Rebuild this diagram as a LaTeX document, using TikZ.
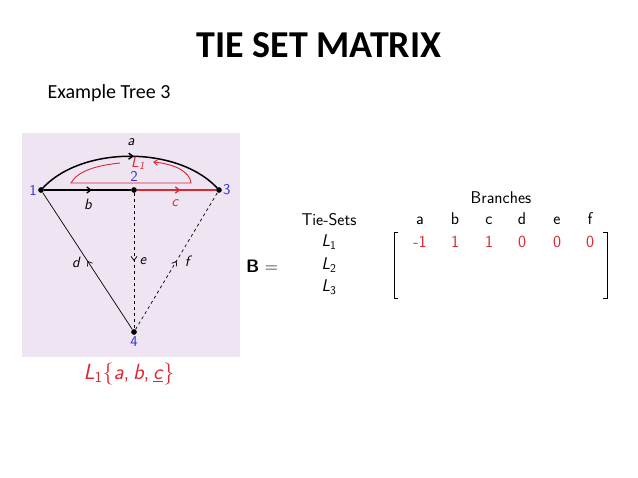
\documentclass[tikz,border=0pt]{standalone}
\usepackage{fontspec}
\newfontfamily\carlito{Carlito}
\usetikzlibrary{decorations.markings,arrows.meta}
\definecolor{bgpink}{RGB}{238,228,242}
\definecolor{lred}{RGB}{220,40,50}
\definecolor{nblue}{RGB}{50,50,200}
\newcommand{\Ls}[1]{\textit{L}\textsubscript{#1}}
\tikzset{
 vtx/.style={circle,fill=black,inner sep=2pt},
 num/.style={text=nblue,font=\sffamily\fontsize{15}{17}\selectfont,inner sep=1pt},
 lbl/.style={font=\sffamily\itshape\fontsize{15}{17}\selectfont,inner sep=1pt},
 mid arrow/.style={postaction={decorate},decoration={markings,mark=at position #1 with {\arrow{Straight Barb[length=4pt,width=6pt]}}}},
 txt/.style={font=\sffamily\fontsize{17}{20}\selectfont,inner sep=1pt},
}
\begin{document}
\begin{tikzpicture}[x=1pt,y=-1pt]
\useasboundingbox (0,0) rectangle (638,478);
\node[font=\carlito\bfseries\fontsize{38}{42}\selectfont] (title) at (319,45) {TIE SET MATRIX};
\node[font=\carlito\fontsize{20}{24}\selectfont,anchor=west] (ex) at (44,93) {Example Tree 3};
\fill[bgpink] (22,133) rectangle (240,357);
\node[vtx] (n1) at (41,190) {};
\node[vtx] (n2) at (134,190) {};
\node[vtx] (n3) at (219,190) {};
\node[vtx] (n4) at (134,332) {};
\node[num,left] at (n1.west) {1};
\node[num] at (134,176) {2};
\node[num,right] at (n3.east) {3};
\node[num,below] at (n4.south) {4};
\draw[line width=1.5pt,mid arrow=0.52] (n1.center) .. controls (80,145) and (180,145) .. (n3.center);
\node[lbl] at (131,142) {a};
\draw[line width=1.3pt,mid arrow=0.55] (n1) -- (n2);
\node[lbl] at (88,204) {b};
\draw[line width=1.3pt,lred,mid arrow=0.55] (n2) -- (n3);
\node[lbl,text=lred] at (175,203) {c};
\draw[line width=0.7pt,mid arrow=0.5] (n4) -- (n1);
\node[lbl] at (76,262) {d};
\draw[line width=0.7pt,dashed,mid arrow=0.5] (n2) -- (n4);
\node[lbl] at (143,261) {e};
\draw[line width=0.7pt,dashed,mid arrow=0.5] (n4) -- (n3);
\node[lbl] at (187,261) {f};
\draw[lred,line width=0.9pt,{Straight Barb[length=4pt,width=6pt]}-] (153,162) .. controls (175,164) and (190,172) .. (191,183) -- (71,183) .. controls (78,170) and (100,165) .. (120,163);
\node[lbl,text=lred] at (138,163) {\Ls{1}};
\node[text=lred,font=\sffamily\fontsize{22}{26}\selectfont,inner sep=1pt] (set) at (129,374) {\Ls{1}\textbraceleft\textit{a},\,\textit{b},\,\underline{\textit{c}}\textbraceright};
\node[font=\sffamily\fontsize{18}{21}\selectfont] (B) at (262,266) {\textbf{B} =};
\node[txt] (ts) at (329,220) {Tie-Sets};
\node[txt] (r1) at (329,242) {\Ls{1}};
\node[txt] (r2) at (329,265) {\Ls{2}};
\node[txt] (r3) at (329,287) {\Ls{3}};
\node[txt] (br) at (501,198) {Branches};
\foreach \c/\x in {a/420,b/455,c/489,d/522,e/557,f/590}
  \node[txt,anchor=base] (h\c) at (\x,225) {\c};
\foreach \v/\x/\n in {-1/420/a,1/455/b,1/489/c,0/522/d,0/557/e,0/590/f}
  \node[txt,text=lred] (v\n) at (\x,242) {\v};
\draw[line width=0.7pt] (398,232) -- (394,232) -- (394,298) -- (398,298);
\draw[line width=0.7pt] (603,232) -- (607,232) -- (607,298) -- (603,298);
\end{tikzpicture}
\end{document}
